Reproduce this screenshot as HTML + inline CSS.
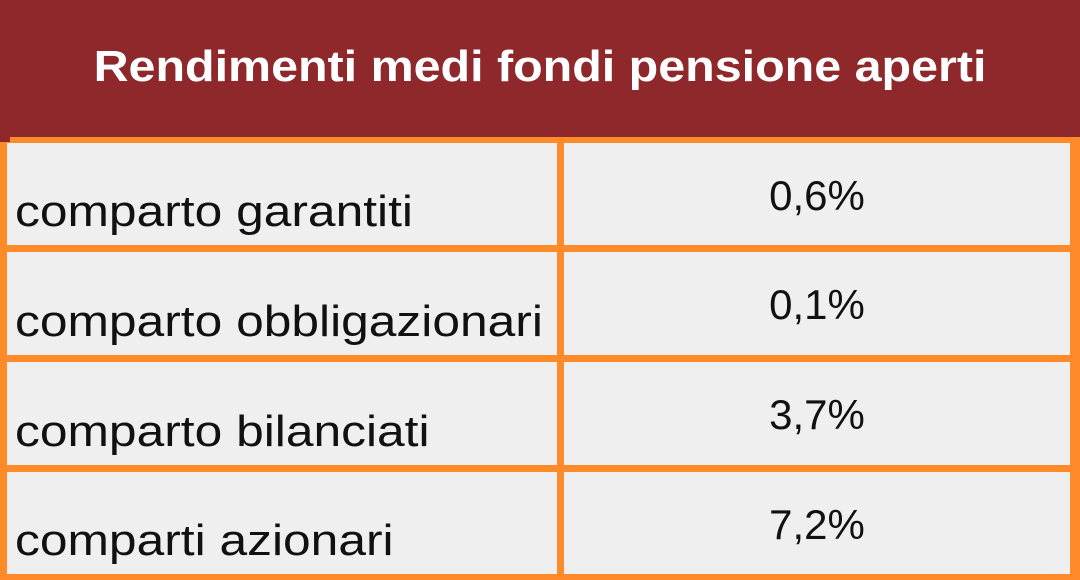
<!DOCTYPE html>
<html><head><style>
body{margin:0;width:1080px;height:580px;background:#fff;position:relative;overflow:hidden;font-family:"Liberation Sans",sans-serif}
.h{position:absolute;left:0;top:0;width:1080px;height:142px;background:#8e282b}
.t{position:absolute;left:0;top:42px;width:1080px;text-align:center;color:#fff;font-weight:bold;font-size:44px;transform:scaleX(1.1)}
.g{position:absolute;left:0;top:137px;width:1080px;height:443px;background:#fe8a2a}
.c{position:absolute;background:#efefef;font-size:40px;color:#111}
.l span{position:absolute;bottom:8px;left:8px;white-space:nowrap;font-size:44px;transform:scaleX(1.13);transform-origin:left bottom}
.r span{position:absolute;top:29px;left:0;width:100%;text-align:center;font-size:42px}
</style></head><body>
<div class="h"></div>
<div class="g"></div>
<div class="h" style="left:0;width:10px;height:142px"></div>
<div class="t">Rendimenti medi fondi pensione aperti</div>
<div class="c l" style="left:7px;top:143px;width:550px;height:102px"><span>comparto garantiti</span></div>
<div class="c r" style="left:564px;top:143px;width:506px;height:102px"><span>0,6%</span></div>
<div class="c l" style="left:7px;top:252px;width:550px;height:103px"><span>comparto obbligazionari</span></div>
<div class="c r" style="left:564px;top:252px;width:506px;height:103px"><span>0,1%</span></div>
<div class="c l" style="left:7px;top:362px;width:550px;height:103px"><span>comparto bilanciati</span></div>
<div class="c r" style="left:564px;top:362px;width:506px;height:103px"><span>3,7%</span></div>
<div class="c l" style="left:7px;top:472px;width:550px;height:102px"><span>comparti azionari</span></div>
<div class="c r" style="left:564px;top:472px;width:506px;height:102px"><span>7,2%</span></div>
</body></html>
